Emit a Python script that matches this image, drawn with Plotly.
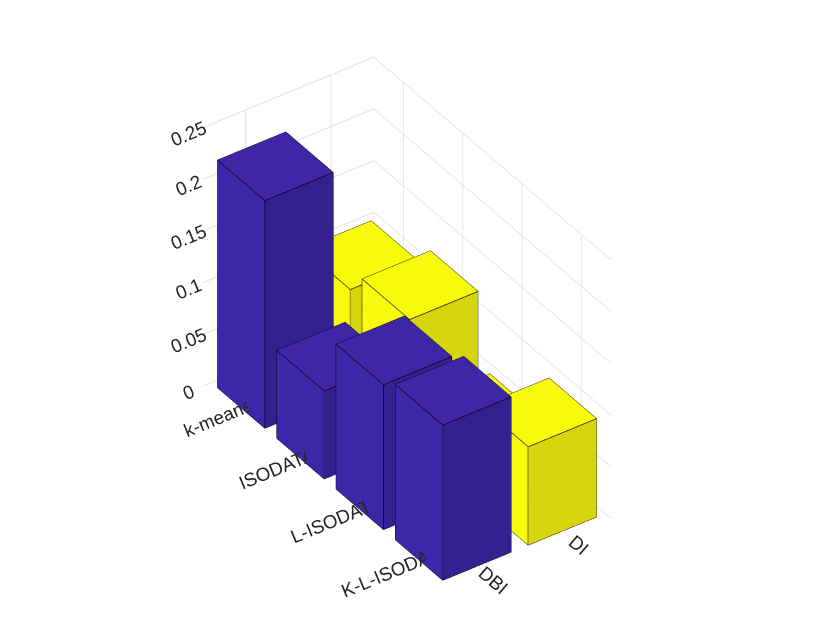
import plotly.graph_objects as go

categories = ["k-means", "ISODATA", "L-ISODATA", "K-L-ISODATA"]
series = ["DBI", "DI"]
dbi = [0.22, 0.085, 0.14, 0.15]
di = [0.10, 0.12, 0.05, 0.095]
colors = {"DBI": "#3e26a8", "DI": "#f9fb0e"}
values = {"DBI": dbi, "DI": di}

fig = go.Figure()
w = 0.4
for si, s in enumerate(series):
    xs, ys, zs, I, J, K = [], [], [], [], [], []
    ex, ey, ez = [], [], []
    for ci, v in enumerate(values[s]):
        x0, x1 = si + 1 - w, si + 1 + w
        y0, y1 = ci + 1 - w, ci + 1 + w
        b = len(xs)
        for zz in (0, v):
            for (xx, yy) in ((x0, y0), (x1, y0), (x1, y1), (x0, y1)):
                xs.append(xx); ys.append(yy); zs.append(zz)
        faces = [(0,1,2),(0,2,3),(4,5,6),(4,6,7),(0,1,5),(0,5,4),(1,2,6),(1,6,5),
                 (2,3,7),(2,7,6),(3,0,4),(3,4,7)]
        for f in faces:
            I.append(b+f[0]); J.append(b+f[1]); K.append(b+f[2])
        pts = [(x0,y0),(x1,y0),(x1,y1),(x0,y1),(x0,y0)]
        for zz in (0, v):
            for p in pts:
                ex.append(p[0]); ey.append(p[1]); ez.append(zz)
            ex.append(None); ey.append(None); ez.append(None)
        for p in pts[:4]:
            ex += [p[0], p[0], None]; ey += [p[1], p[1], None]; ez += [0, v, None]
    fig.add_trace(go.Mesh3d(x=xs, y=ys, z=zs, i=I, j=J, k=K, color=colors[s],
                            flatshading=True, opacity=1,
                            lighting=dict(ambient=0.85, diffuse=0.25, specular=0, fresnel=0),
                            lightposition=dict(x=-1000, y=-2000, z=3000),
                            hoverinfo="skip", showlegend=False))
    fig.add_trace(go.Scatter3d(x=ex, y=ey, z=ez, mode="lines",
                               line=dict(color="black", width=1.5),
                               hoverinfo="skip", showlegend=False))

ax = dict(showbackground=False, gridcolor="#e0e0e0", showline=False, zeroline=False,
          title=dict(text=""), tickfont=dict(family="Liberation Sans", size=15, color="#262626"))
fig.update_layout(
    width=840, height=630, paper_bgcolor="white", margin=dict(l=0, r=0, t=0, b=0),
    scene=dict(
        domain=dict(x=[0.05, 0.9], y=[0.0, 1.0]),
        xaxis=dict(ax, tickvals=[1, 2], ticktext=series, range=[0.5, 2.5]),
        yaxis=dict(ax, tickvals=[1, 2, 3, 4], ticktext=categories, range=[4.5, 0.5]),
        zaxis=dict(ax, tickvals=[0, 0.05, 0.1, 0.15, 0.2, 0.25],
                   ticktext=["0", "0.05", "0.1", "0.15", "0.2", "0.25"], range=[0, 0.25]),
        aspectmode="manual", aspectratio=dict(x=0.66, y=1.32, z=1.02),
        camera=dict(eye=dict(x=-0.75, y=-1.08, z=0.97), center=dict(x=0.0, y=0, z=0.0),
                    projection=dict(type="orthographic")),
    ),
)
fig.write_html("out.html")
